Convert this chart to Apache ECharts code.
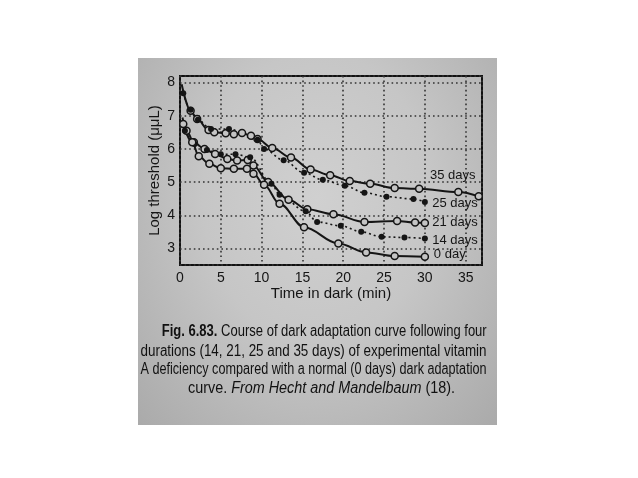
<!DOCTYPE html>
<html><head><meta charset="utf-8">
<script src="https://cdn.jsdelivr.net/npm/echarts@6/dist/echarts.min.js"></script>
<style>
html,body{margin:0;padding:0;background:#fff;width:638px;height:478px;overflow:hidden}
#paper{position:absolute;left:138px;top:58px;width:359px;height:367px;
 background:radial-gradient(ellipse at 50% 38%, #d0d0d0 0%, #c6c6c6 45%, #aaaaaa 100%);}
#chart{position:absolute;left:0;top:0;width:638px;height:478px}
</style></head><body>
<div id="paper"></div><div id="chart"></div>
<script>
// ---- data (time in min, log threshold) ----
const day35 = [[0.2,7.95],[1.3,7.15],[2.1,6.9],[3.5,6.57],[4.2,6.5],[5.6,6.47],[6.6,6.44],[7.6,6.48],[8.7,6.4],[9.5,6.3],[11.3,6.03],[13.6,5.74],[16.0,5.38],[18.4,5.21],[20.8,5.03],[23.3,4.95],[26.3,4.82],[29.3,4.8],[34.1,4.7],[36.6,4.57]];
const day25 = [[0.4,7.68],[1.3,7.18],[2.2,6.88],[3.8,6.6],[6.0,6.6],[9.5,6.28],[10.3,6.0],[12.7,5.66],[15.2,5.28],[17.5,5.07],[20.2,4.89],[22.6,4.68],[25.3,4.56],[28.6,4.49],[30.0,4.4]];
const day21 = [[0.3,6.95],[0.8,6.55],[1.7,6.2],[3.0,6.0],[4.3,5.85],[5.8,5.7],[7.0,5.65],[8.3,5.67],[9.0,5.5],[10.8,5.0],[13.3,4.47],[15.6,4.18],[18.8,4.03],[22.6,3.8],[26.6,3.83],[28.8,3.78],[30.0,3.77]];
const day14 = [[0.6,6.55],[1.8,6.15],[3.3,5.97],[5.0,5.84],[6.8,5.84],[8.6,5.75],[11.2,4.95],[12.2,4.62],[15.4,4.12],[16.8,3.8],[19.7,3.68],[22.2,3.5],[24.7,3.35],[27.5,3.33],[30.0,3.3]];
const day0 = [[0.4,6.75],[1.5,6.2],[2.3,5.78],[3.6,5.55],[5.0,5.42],[6.6,5.4],[8.2,5.4],[9.0,5.25],[10.3,4.92],[12.2,4.35],[15.2,3.64],[19.4,3.15],[22.8,2.88],[26.3,2.77],[30.0,2.75]];
const seriesNames = ['35 days','25 days','21 days','14 days','0 day'];
const xTitle = 'Time in dark (min)';
const yTitle = 'Log threshold (\u03bc\u03bcL)';
const captionLines = [
  ['Fig. 6.83.', ' Course of dark adaptation curve following four'],
  ['durations (14, 21, 25 and 35 days) of experimental vitamin'],
  ['A deficiency compared with a normal (0 days) dark adaptation'],
  ['curve. ', 'From Hecht and Mandelbaum', ' (18).']
];

const INK = '#151515';
const FONT = '"Liberation Sans", Arial, sans-serif';
function mk(name, data, solid, markFirst) {
  const items = data.map((d, i) => (i === 0 && !markFirst) ? { value: d, symbol: 'none' } : d);
  return {
    type: 'line', name, data: items, smooth: 0.35, smoothMonotone: 'x',
    symbol: 'circle', symbolSize: solid ? 7 : 6,
    lineStyle: { color: INK, width: solid ? 2 : 1.6, type: solid ? 'solid' : [2, 3] },
    itemStyle: solid ? { color: '#c4c4c4', borderColor: INK, borderWidth: 1.5 } : { color: INK },
    emphasis: { disabled: true }, animation: false, silent: true
  };
}
const chart = echarts.init(document.getElementById('chart'), null, { renderer: 'canvas' });
const option = {
  animation: false,
  backgroundColor: 'transparent',
  grid: { left: 180, right: 156, top: 76, bottom: 213, show: true, borderColor: '#111', borderWidth: 2, backgroundColor: 'transparent' },
  xAxis: {
    type: 'value', min: 0, max: 37, interval: 5,
    axisLine: { show: false }, axisTick: { show: false },
    axisLabel: { showMaxLabel: false, margin: 6, color: INK, fontSize: 14, fontFamily: FONT },
    splitLine: { lineStyle: { type: [1.6, 3], color: '#333', width: 1.6 } },
    name: xTitle, nameLocation: 'middle', nameGap: 21,
    nameTextStyle: { color: INK, fontSize: 15, fontFamily: FONT }
  },
  yAxis: {
    type: 'value', min: 2.5, max: 8.2, minInterval: 1, maxInterval: 1,
    axisLine: { show: false }, axisTick: { show: false },
    axisLabel: { showMinLabel: false, showMaxLabel: false, margin: 5, color: INK, fontSize: 14, fontFamily: FONT },
    splitLine: { lineStyle: { type: [1.6, 3], color: '#333', width: 1.6 } },
    name: yTitle, nameLocation: 'middle', nameGap: 18, nameRotate: 90,
    nameTextStyle: { color: INK, fontSize: 15, fontFamily: FONT }
  },
  series: [
    mk(seriesNames[0], day35, true, false),
    mk(seriesNames[1], day25, false, true),
    mk(seriesNames[2], day21, true, false),
    mk(seriesNames[3], day14, false, true),
    mk(seriesNames[4], day0, true, true)
  ]
};
chart.setOption(option);

// series labels placed at data coordinates
const labelAnchors = [
  { at: [36.2, 5.21], align: 'right' },
  { at: [30.9, 4.36], align: 'left' },
  { at: [30.9, 3.77], align: 'left' },
  { at: [30.9, 3.25], align: 'left' },
  { at: [31.1, 2.82], align: 'left' }
];
const graphics = [];
labelAnchors.forEach((a, i) => {
  const p = chart.convertToPixel({ gridIndex: 0 }, a.at);
  graphics.push({ type: 'text', x: p[0], y: p[1], z: 50,
    style: { text: seriesNames[i], fill: INK, font: '13px ' + FONT, textAlign: a.align, textVerticalAlign: 'middle' } });
});

// caption
const cv = document.createElement('canvas').getContext('2d');
function w(str, f) { cv.font = f; return cv.measureText(str).width; }
const CF = 16;
const fN = CF + 'px ' + FONT, fB = 'bold ' + CF + 'px ' + FONT, fI = 'italic ' + CF + 'px ' + FONT;
const capBox = [ {l:161.7, r:486.7, y:331.7}, {l:140.5, r:486.5, y:351.7}, {l:140.5, r:486.5, y:370}, {l:188, r:455, y:388.3} ];
captionLines.forEach((parts, i) => {
  const fonts = i === 0 ? [fB, fN] : (i === 3 ? [fN, fI, fN] : [fN]);
  const widths = parts.map((s, k) => w(s, fonts[k]));
  const total = widths.reduce((a, b) => a + b, 0);
  const box = capBox[i];
  const sx = (box.r - box.l) / total;
  let x = box.l;
  parts.forEach((s, k) => {
    graphics.push({ type: 'text', x: x, y: box.y, scaleX: sx, z: 50,
      style: { text: s, fill: '#111', font: fonts[k], textAlign: 'left', textVerticalAlign: 'middle' } });
    x += widths[k] * sx;
  });
});
chart.setOption({ graphic: graphics });
</script>
</body></html>
